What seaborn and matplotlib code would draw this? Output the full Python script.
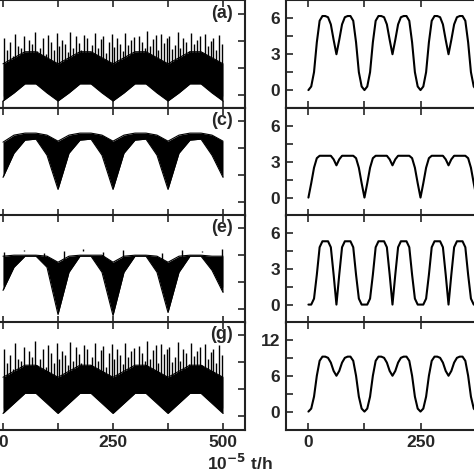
import numpy as np
import matplotlib
matplotlib.use("Agg")
import matplotlib.pyplot as plt
import seaborn as sns
from matplotlib.ticker import MultipleLocator, FixedLocator

sns.set_theme(style="ticks")
plt.rcParams['font.family'] = ['Liberation Sans', 'DejaVu Sans']
plt.rcParams['font.weight'] = 'bold'

# ---- left column: envelopes (x every 25) in relative units 0..107 ----
x_env = [0,25,50,75,100,125,150,175,200,225,250,275,300,325,350,375,400,425,450,475,500]
a_low = [7,15,24,24,15,7,15,24,24,15,7,15,24,24,15,7,15,24,24,15,7]
a_up  = [44,50,56,56,50,44,50,56,56,50,44,50,56,56,50,44,50,56,56,50,44]
a_spk = [70,58,66,52,74,62,60,72,55,68,64,76,57,60,70,54,73,66,58,75,62,68,64,56,76,60,72,65,58,73,
         70,56,63,75,60,69,72,55,66,74,61,70,64,57,75,63,68,71,55,72,66,60,77,62,69,73,58,74,65,70,
         72,59,63,76,60,70,66,57,75,64,68,72,56,74,62,67,70,58,73,64]
c_up  = [73,80,82,82,80,74,80,82,82,80,74,80,82,82,80,74,80,82,82,80,74]
c_low = [38,62,75,76,60,26,62,75,76,60,26,62,75,76,60,26,62,75,76,60,38]
e_up  = [66,67,67,67,66,60,66,67,67,67,60,66,67,67,66,60,66,67,67,66,66]
e_low = [32,55,66,66,55,8,50,66,66,50,7,50,66,66,50,10,50,66,66,52,30]
g_low = [16,26,36,36,26,16,26,36,36,26,16,26,36,36,26,16,26,36,36,26,16]
g_up  = [52,58,64,64,58,52,58,64,64,58,52,58,64,64,58,52,58,64,64,58,52]
g_spk = [80,66,74,60,86,70,68,82,62,78,72,88,64,70,80,62,84,76,66,86,70,78,74,64,87,68,82,75,66,84,
         80,64,72,86,68,79,83,62,76,85,70,80,74,65,86,72,78,81,63,83,76,68,88,70,79,84,66,85,75,80,
         82,67,72,87,68,80,76,65,86,73,78,82,64,85,70,77,80,66,84,74]
e_spk = [70,72,69,71,73,70,72,71,69,72,70,73]

# ---- right column: one period (x step 6.25 over 0..125), three periods shown ----
b_per = [0,0.3,1.5,4.0,5.8,6.2,6.2,6.1,5.5,4.2,3.0,4.2,5.5,6.1,6.2,6.2,5.8,4.0,1.5,0.3]
d_per = [0,1.2,2.5,3.3,3.5,3.5,3.5,3.5,3.5,3.2,2.7,3.2,3.5,3.5,3.5,3.5,3.5,3.3,2.5,1.2]
f_per = [0,0,0.5,2.5,4.8,5.3,5.3,5.3,4.8,2.5,0,2.5,4.8,5.3,5.3,5.3,4.8,2.5,0.5,0]
h_per = [0,0.5,2.5,6.0,8.5,9.2,9.2,9.0,8.2,6.8,6.0,6.8,8.2,9.0,9.2,9.2,8.5,6.0,2.5,0.5]
labels_left = ["(a)", "(c)", "(e)", "(g)"]

W = H = 474
fig = plt.figure(figsize=(4.74, 4.74), dpi=100)
tops = [0.5, 108, 215, 322]
rh = 107.5

def box(x0, x1, top):
    return [x0 / W, 1 - (top + rh) / H, (x1 - x0) / W, rh / H]

def style(ax, bottom_labels):
    ax.set_xlim(-50, 550)
    ax.xaxis.set_major_locator(FixedLocator([0, 250, 500]))
    ax.xaxis.set_minor_locator(FixedLocator([125, 375]))
    ax.tick_params(axis='both', which='both', direction='in', top=True, right=True,
                   width=1.2, length=5, labelsize=12.5, pad=4)
    for s in ax.spines.values():
        s.set_linewidth(1.5)
        s.set_color('#222222')
    if not bottom_labels:
        ax.tick_params(labelbottom=False)

xe = np.array(x_env, dtype=float)
for i, (lo, up, spk) in enumerate([(a_low, a_up, a_spk), (c_low, c_up, None),
                                    (e_low, e_up, e_spk), (g_low, g_up, g_spk)]):
    ax = fig.add_axes(box(-19, 245, tops[i]))
    ax.fill_between(xe, lo, up, color='black', lw=0)
    if spk is not None:
        xs = np.linspace(3, 497, len(spk))
        base = [lo[min(int(round(v / 25)), 20)] + 5 for v in xs]
        ax.vlines(xs, base, spk, color='black', lw=1.0)
    ax.plot(xe, up, color='black', lw=0.8)
    ax.plot(xe, lo, color='black', lw=0.8)
    ax.set_ylim(0, 107)
    ax.set_yticks([])
    ax.yaxis.set_minor_locator(FixedLocator([13, 40, 67, 94]))
    style(ax, i == 3)
    ax.text(0.955, 0.96, labels_left[i], transform=ax.transAxes, ha='right', va='top',
            fontsize=13, fontweight='bold')

xr = np.arange(0, 375.01, 6.25)
right = [(b_per, (-1.5, 7.5), [0, 3, 6]), (d_per, (-1.5, 7.5), [0, 3, 6]),
         (f_per, (-1.5, 7.5), [0, 3, 6]), (h_per, (-3, 15), [0, 6, 12])]
for i, (per, yl, yt) in enumerate(right):
    y = per * 3 + [per[0]]
    ax = fig.add_axes(box(286, 555, tops[i]))
    sns.lineplot(x=xr, y=y, ax=ax, color='black', lw=1.5)
    ax.set_ylim(*yl)
    ax.set_yticks(yt)
    step = yt[1] - yt[0]
    ax.yaxis.set_minor_locator(MultipleLocator(step / 2))
    style(ax, i == 3)

fig.text(240 / W, 1 - 463 / H, r"10$^{\mathbf{-5}}$ t/h", ha='center', va='center',
         fontsize=12.5, fontweight='bold')
fig.savefig("out.png", dpi=100)
